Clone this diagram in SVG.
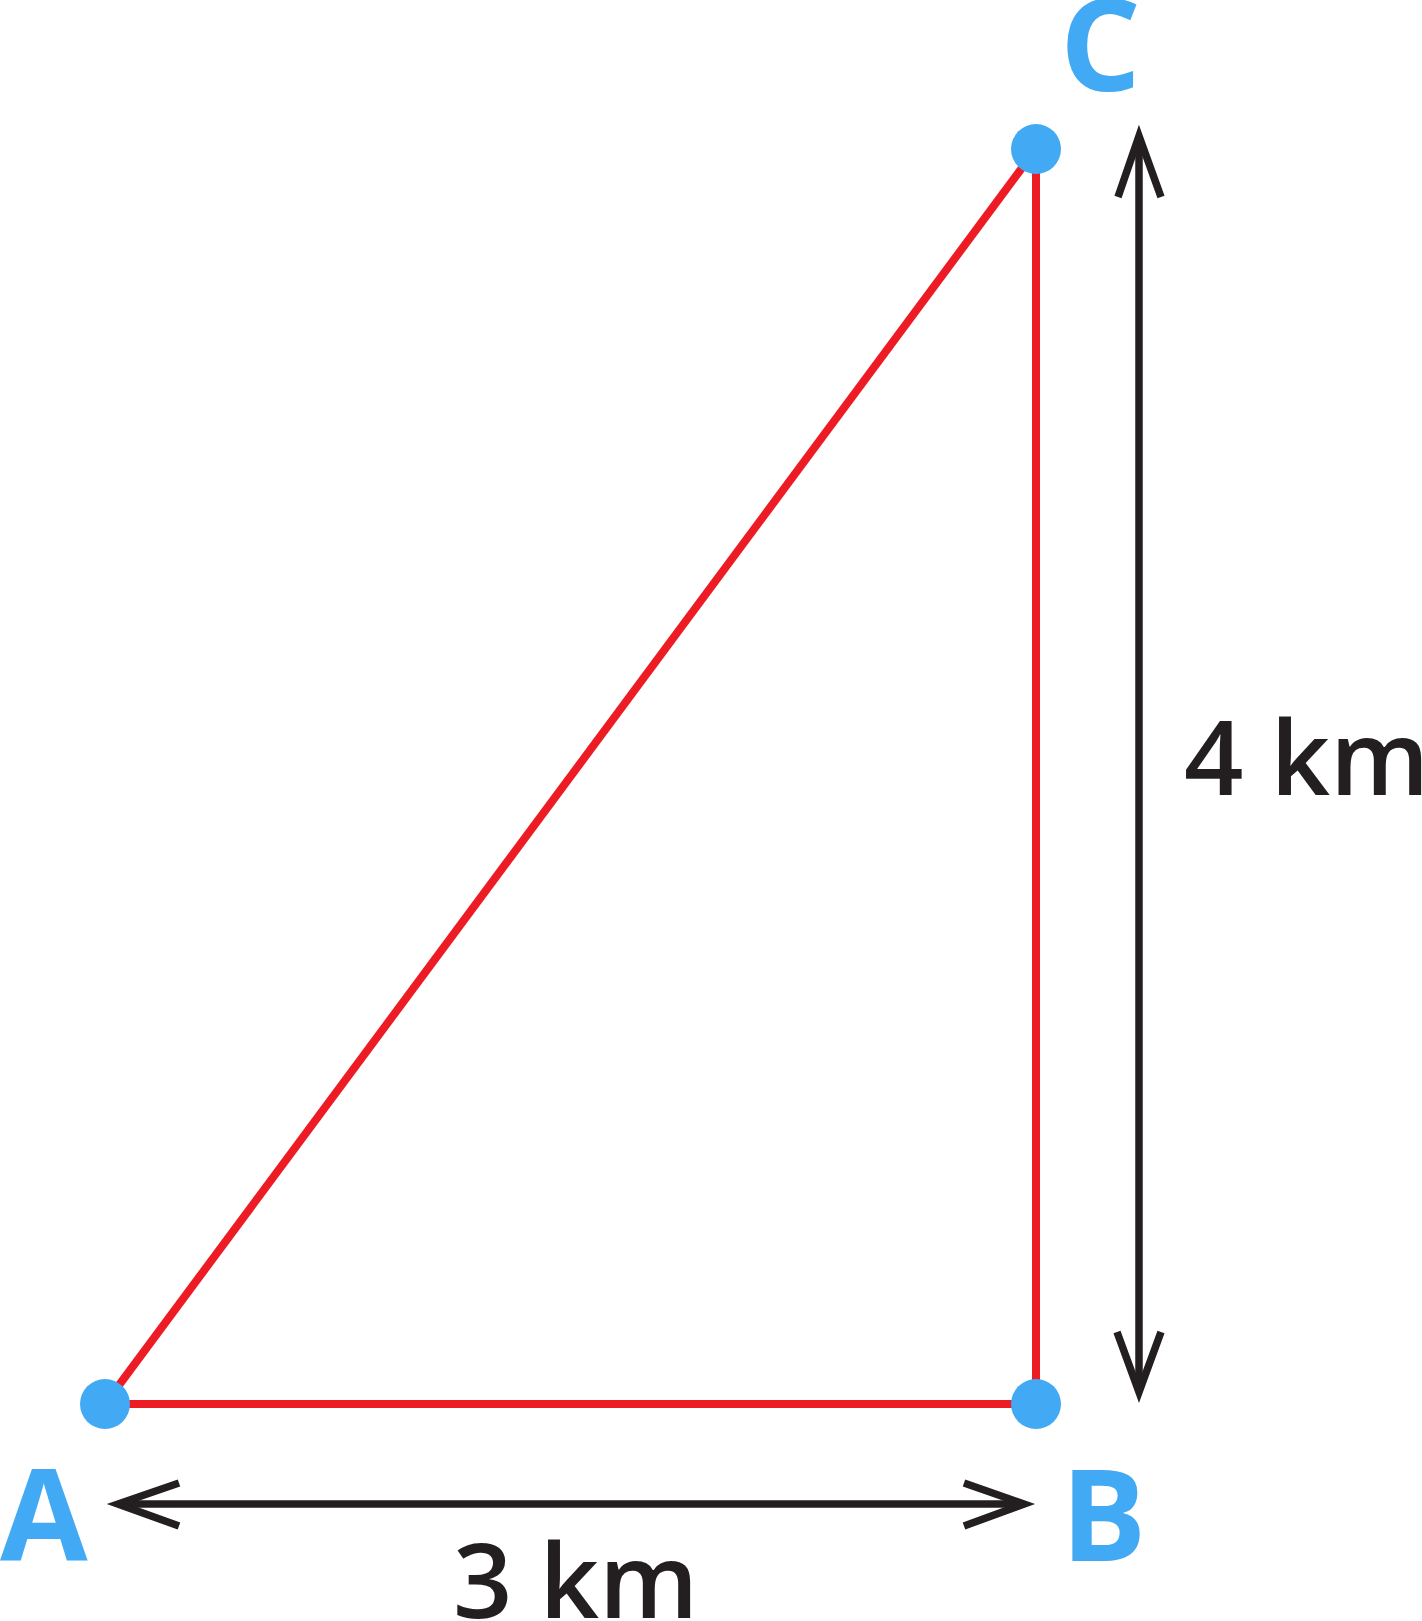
<svg xmlns="http://www.w3.org/2000/svg" width="1422" height="1621" viewBox="0 0 1422 1621">
<style>
.edge{stroke:#ED1C24;stroke-width:8;fill:none}
.dim{stroke:#231F20;stroke-width:7.5;fill:none;stroke-linejoin:miter;stroke-miterlimit:10}
.dot{fill:#42A9F4}
.lbl{font-family:"Open Sans","Liberation Sans",sans-serif;font-weight:700;font-size:127px;fill:#42A9F4}
.meas{font-family:"Open Sans","Liberation Sans",sans-serif;font-weight:600;font-size:104px;fill:#231F20}
</style>
<rect width="1422" height="1621" fill="#fff"/>
<g id="connectors">
<line class="edge" x1="105" y1="1404" x2="1036" y2="149"/>
<line class="edge" x1="105" y1="1404" x2="1036" y2="1404"/>
<line class="edge" x1="1036" y1="1404" x2="1036" y2="149"/>
<g id="dim-3km">
<line class="dim" x1="118" y1="1504" x2="1024" y2="1504"/>
<polyline class="dim" points="179,1483 118,1504 179,1526"/>
<polyline class="dim" points="964,1483 1024,1504 964,1526"/>
</g>
<g id="dim-4km">
<line class="dim" x1="1139" y1="136" x2="1139" y2="1392"/>
<polyline class="dim" points="1118,197 1139,136 1161,197"/>
<polyline class="dim" points="1117,1332 1139,1392 1161,1332"/>
</g>
</g>
<g id="node-A">
<circle class="dot" cx="105" cy="1404" r="25"/>
<text class="lbl" x="0" y="1561">A</text>
</g>
<g id="node-B">
<circle class="dot" cx="1036" cy="1404" r="25"/>
<text class="lbl" x="1061" y="1561">B</text>
</g>
<g id="node-C">
<circle class="dot" cx="1036" cy="149" r="25"/>
<text class="lbl" x="1060" y="91">C</text>
</g>
<g id="label-3km">
<text class="meas" x="453" y="1618">3 km</text>
</g>
<g id="label-4km">
<text class="meas" x="1184" y="795">4 km</text>
</g>
</svg>
